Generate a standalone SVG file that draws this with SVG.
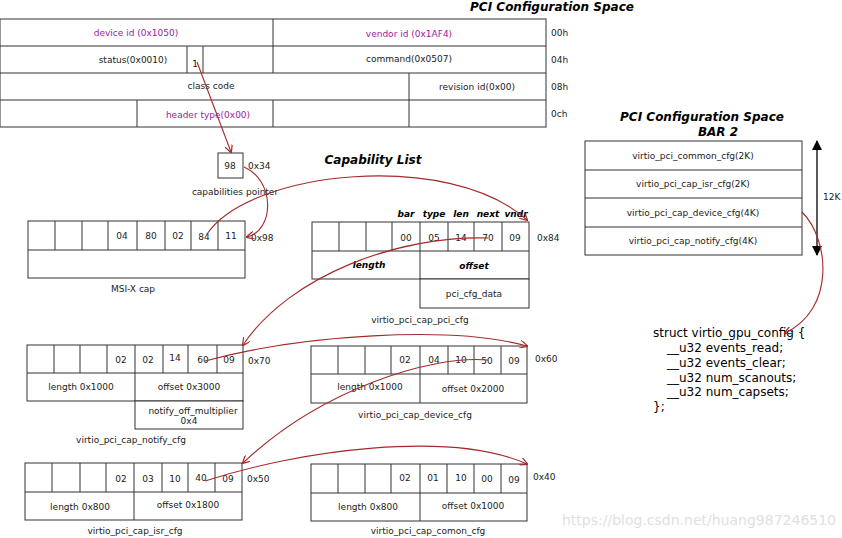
<svg xmlns="http://www.w3.org/2000/svg" width="842" height="538" viewBox="0 0 842 538">
<defs>
<marker id="ah" markerWidth="8" markerHeight="8" refX="7" refY="4" orient="auto" markerUnits="userSpaceOnUse"><path d="M0,0 L8,4 L0,8" fill="none" stroke="#a52a2a" stroke-width="1.2"/></marker>
<marker id="bk" markerWidth="10" markerHeight="10" refX="9" refY="5" orient="auto-start-reverse" markerUnits="userSpaceOnUse"><path d="M0,0 L10,5 L0,10 z" fill="#000"/></marker>
<style>
rect,line.c{fill:#fff;stroke:#333;stroke-width:1}
line.c{fill:none}
text{font-family:"DejaVu Sans",sans-serif;font-size:9px;fill:#222}
.m{text-anchor:middle}
.p{fill:#a020a0}
.t{font-weight:bold;font-style:italic;font-size:12px;fill:#000}
.h{font-weight:bold;font-style:italic;font-size:9px;fill:#000}
.s{font-size:12px;fill:#000}
.a{fill:none;stroke:#a52a2a;stroke-width:1.1}
</style>
</defs>
<rect x="0" y="0" width="842" height="538" style="fill:#fff;stroke:none"/>
<text class="t m" x="552" y="11">PCI Configuration Space</text>
<g id="pci-config">
<rect x="0" y="19" width="546" height="108"/>
<line class="c" x1="0" y1="46" x2="546" y2="46"/><line class="c" x1="0" y1="73" x2="546" y2="73"/><line class="c" x1="0" y1="100" x2="546" y2="100"/>
<line class="c" x1="273" y1="19" x2="273" y2="73"/><line class="c" x1="187" y1="46" x2="187" y2="73"/><line class="c" x1="203" y1="46" x2="203" y2="73"/>
<line class="c" x1="409" y1="73" x2="409" y2="127"/><line class="c" x1="137" y1="100" x2="137" y2="127"/><line class="c" x1="273" y1="100" x2="273" y2="127"/>
<text class="m p" x="136" y="36">device id (0x1050)</text><text class="m p" x="409" y="37">vendor id (0x1AF4)</text>
<text class="m" x="133" y="63">status(0x0010)</text><text class="m" x="195" y="67">1</text><text class="m" x="409" y="62">command(0x0507)</text>
<text class="m" x="211" y="89">class code</text><text class="m" x="477" y="90">revision id(0x00)</text>
<text class="m p" x="208" y="118">header type(0x00)</text>
<text x="551" y="36">00h</text><text x="551" y="63">04h</text><text x="551" y="90">08h</text><text x="551" y="117">0ch</text>
</g>
<g id="cap-pointer">
<rect x="218" y="153" width="25" height="25"/><text class="m" x="230" y="169">98</text><text x="248" y="169">0x34</text>
<text class="m" x="235" y="195">capabilities pointer</text>
</g>
<text class="t m" x="373" y="164">Capability List</text>
<g id="msix">
<rect x="28" y="221" width="217" height="57"/><line class="c" x1="28" y1="250" x2="245" y2="250"/>
<line class="c" x1="55" y1="221" x2="55" y2="250"/><line class="c" x1="82" y1="221" x2="82" y2="250"/><line class="c" x1="108" y1="221" x2="108" y2="250"/><line class="c" x1="137" y1="221" x2="137" y2="250"/><line class="c" x1="165" y1="221" x2="165" y2="250"/><line class="c" x1="191" y1="221" x2="191" y2="250"/><line class="c" x1="218" y1="221" x2="218" y2="250"/>
<text class="m" x="122" y="239">04</text><text class="m" x="151" y="239">80</text><text class="m" x="178" y="239">02</text><text class="m" x="204" y="240">84</text><text class="m" x="231" y="239">11</text>
<text x="251" y="241">0x98</text><text class="m" x="133" y="292">MSI-X cap</text>
</g>
<g id="pci-cfg">
<text class="h m" x="406" y="217">bar</text><text class="h m" x="434" y="217">type</text><text class="h m" x="461" y="217">len</text><text class="h m" x="488" y="217">next</text><text class="h m" x="516" y="217">vndr</text>
<rect x="312" y="222" width="217" height="57"/><rect x="420" y="279" width="109" height="29"/><line class="c" x1="312" y1="251" x2="529" y2="251"/>
<line class="c" x1="339" y1="222" x2="339" y2="251"/><line class="c" x1="366" y1="222" x2="366" y2="251"/><line class="c" x1="392" y1="222" x2="392" y2="251"/><line class="c" x1="420" y1="222" x2="420" y2="279"/><line class="c" x1="448" y1="222" x2="448" y2="251"/><line class="c" x1="474" y1="222" x2="474" y2="251"/><line class="c" x1="502" y1="222" x2="502" y2="251"/>
<text class="m" x="406" y="241">00</text><text class="m" x="434" y="241">05</text><text class="m" x="461" y="241">14</text><text class="m" x="488" y="241">70</text><text class="m" x="515" y="241">09</text>
<text x="537" y="241">0x84</text>
<text class="h m" x="369" y="268">length</text><text class="h m" x="474" y="269">offset</text>
<text class="m" x="474" y="297">pci_cfg_data</text><text class="m" x="420" y="323">virtio_pci_cap_pci_cfg</text>
</g>
<g id="notify">
<rect x="27" y="345" width="216" height="56"/><rect x="135" y="401" width="108" height="28"/><line class="c" x1="27" y1="373" x2="243" y2="373"/>
<line class="c" x1="54" y1="345" x2="54" y2="373"/><line class="c" x1="80" y1="345" x2="80" y2="373"/><line class="c" x1="107" y1="345" x2="107" y2="373"/><line class="c" x1="135" y1="345" x2="135" y2="401"/><line class="c" x1="163" y1="345" x2="163" y2="373"/><line class="c" x1="188" y1="345" x2="188" y2="373"/><line class="c" x1="217" y1="345" x2="217" y2="373"/>
<text class="m" x="121" y="363">02</text><text class="m" x="148" y="363">02</text><text class="m" x="175" y="361">14</text><text class="m" x="203" y="363">60</text><text class="m" x="229" y="363">09</text>
<text x="248" y="364">0x70</text>
<text class="m" x="81" y="390">length 0x1000</text><text class="m" x="189" y="390">offset 0x3000</text>
<text class="m" x="193" y="414">notify_off_multiplier</text><text class="m" x="189" y="424">0x4</text>
<text class="m" x="131" y="443">virtio_pci_cap_notify_cfg</text>
</g>
<g id="device">
<rect x="311" y="346" width="216" height="57"/><line class="c" x1="311" y1="374" x2="527" y2="374"/>
<line class="c" x1="338" y1="346" x2="338" y2="374"/><line class="c" x1="365" y1="346" x2="365" y2="374"/><line class="c" x1="391" y1="346" x2="391" y2="374"/><line class="c" x1="420" y1="346" x2="420" y2="403"/><line class="c" x1="448" y1="346" x2="448" y2="374"/><line class="c" x1="474" y1="346" x2="474" y2="374"/><line class="c" x1="501" y1="346" x2="501" y2="374"/>
<text class="m" x="405" y="363">02</text><text class="m" x="434" y="363">04</text><text class="m" x="461" y="363">10</text><text class="m" x="487" y="364">50</text><text class="m" x="514" y="364">09</text>
<text x="535" y="362">0x60</text>
<text class="m" x="370" y="390">length 0x1000</text><text class="m" x="473" y="392">offset 0x2000</text>
<text class="m" x="415" y="418">virtio_pci_cap_device_cfg</text>
</g>
<g id="isr">
<rect x="25" y="463" width="217" height="57"/><line class="c" x1="25" y1="492" x2="242" y2="492"/>
<line class="c" x1="52" y1="463" x2="52" y2="492"/><line class="c" x1="80" y1="463" x2="80" y2="492"/><line class="c" x1="106" y1="463" x2="106" y2="492"/><line class="c" x1="134" y1="463" x2="134" y2="520"/><line class="c" x1="162" y1="463" x2="162" y2="492"/><line class="c" x1="188" y1="463" x2="188" y2="492"/><line class="c" x1="215" y1="463" x2="215" y2="492"/>
<text class="m" x="121" y="482">02</text><text class="m" x="148" y="482">03</text><text class="m" x="175" y="482">10</text><text class="m" x="201" y="481">40</text><text class="m" x="228" y="482">09</text>
<text x="247" y="482">0x50</text>
<text class="m" x="80" y="510">length 0x800</text><text class="m" x="188" y="508">offset 0x1800</text>
<text class="m" x="135" y="534">virtio_pci_cap_isr_cfg</text>
</g>
<g id="comon">
<rect x="311" y="464" width="216" height="57"/><line class="c" x1="311" y1="493" x2="527" y2="493"/>
<line class="c" x1="338" y1="464" x2="338" y2="493"/><line class="c" x1="365" y1="464" x2="365" y2="493"/><line class="c" x1="391" y1="464" x2="391" y2="493"/><line class="c" x1="420" y1="464" x2="420" y2="521"/><line class="c" x1="447" y1="464" x2="447" y2="493"/><line class="c" x1="474" y1="464" x2="474" y2="493"/><line class="c" x1="501" y1="464" x2="501" y2="493"/>
<text class="m" x="405" y="481">02</text><text class="m" x="433" y="481">01</text><text class="m" x="461" y="481">10</text><text class="m" x="487" y="482">00</text><text class="m" x="514" y="483">09</text>
<text x="533" y="480">0x40</text>
<text class="m" x="368" y="510">length 0x800</text><text class="m" x="473" y="509">offset 0x1000</text>
<text class="m" x="428" y="534">virtio_pci_cap_comon_cfg</text>
</g>
<g id="bar2">
<text class="t m" x="702" y="121">PCI Configuration Space</text><text class="t m" x="718" y="136">BAR 2</text>
<rect x="585" y="141" width="217" height="114"/>
<line class="c" x1="585" y1="170" x2="802" y2="170"/><line class="c" x1="585" y1="198" x2="802" y2="198"/><line class="c" x1="585" y1="227" x2="802" y2="227"/>
<text class="m" x="693" y="159">virtio_pci_common_cfg(2K)</text><text class="m" x="693" y="187">virtio_pci_cap_isr_cfg(2K)</text><text class="m" x="693" y="216">virtio_pci_cap_device_cfg(4K)</text><text class="m" x="693" y="244">virtio_pci_cap_notify_cfg(4K)</text>
<line x1="817" y1="141" x2="817" y2="255" stroke="#000" stroke-width="1.3" marker-start="url(#bk)" marker-end="url(#bk)"/>
<text x="823" y="200">12K</text>
</g>
<g id="struct">
<text class="s" x="653" y="337">struct virtio_gpu_config {</text>
<text class="s" x="667" y="352">__u32 events_read;</text>
<text class="s" x="667" y="367">__u32 events_clear;</text>
<text class="s" x="667" y="382">__u32 num_scanouts;</text>
<text class="s" x="667" y="396">__u32 num_capsets;</text>
<text class="s" x="653" y="411">};</text>
</g>
<g id="connectors">
<path class="a" d="M197,62 L231,152" marker-end="url(#ah)"/>
<path class="a" d="M244,167 C275,180 275,230 247,237" marker-end="url(#ah)"/>
<path class="a" d="M207,234 C250,170 450,150 527,220" marker-end="url(#ah)"/>
<path class="a" d="M488,238 C400,235 290,275 243,345" marker-end="url(#ah)"/>
<path class="a" d="M205,361 C300,335 450,325 527,346" marker-end="url(#ah)"/>
<path class="a" d="M488,360 C430,355 320,390 243,463" marker-end="url(#ah)"/>
<path class="a" d="M205,481 C300,450 450,430 527,464" marker-end="url(#ah)"/>
<path class="a" d="M802,212 C830,240 835,310 785,333" marker-end="url(#ah)"/>
</g>
<text x="562" y="525" style="fill:#e0e0e0;font-size:14px">https://blog.csdn.net/huang987246510</text>
</svg>
